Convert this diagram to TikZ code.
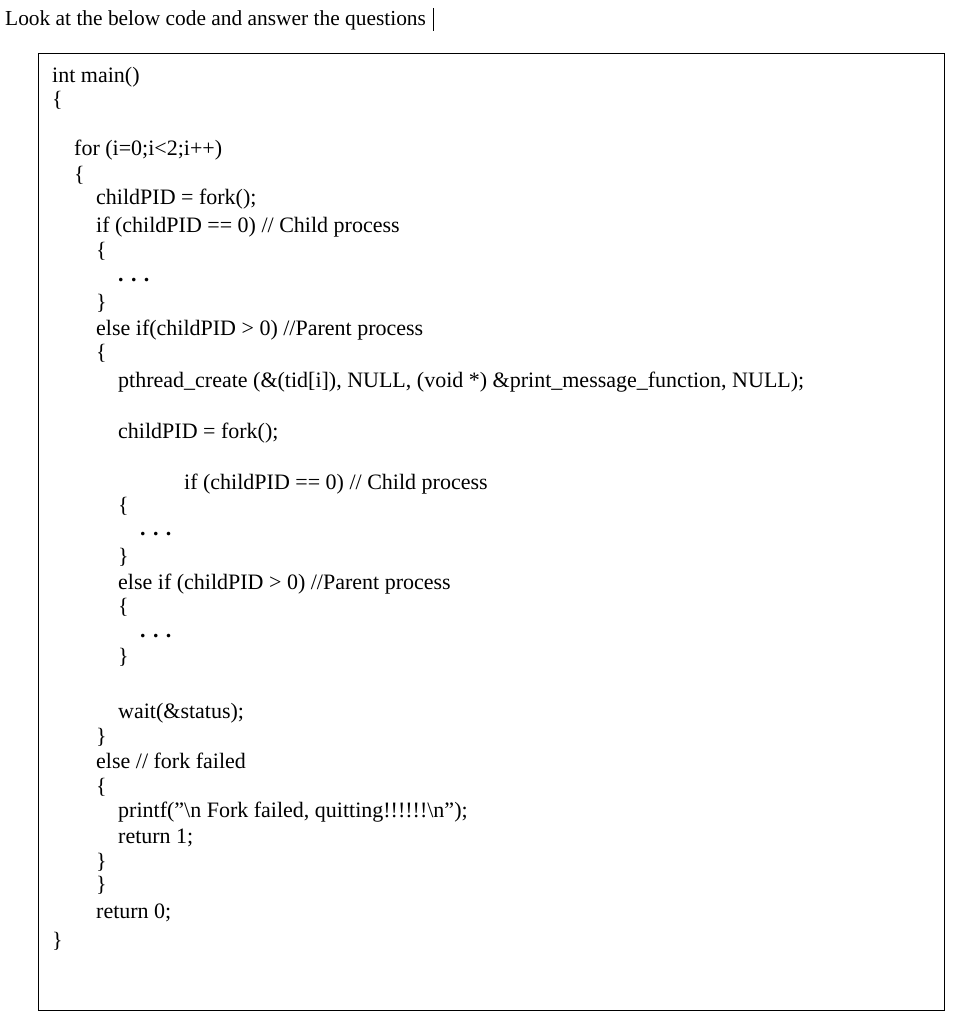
\documentclass[tikz,border=0pt]{standalone}
\usepackage{fontspec}
\setmainfont{Liberation Serif}
\begin{document}
\begin{tikzpicture}[x=1pt,y=-1pt,
  code/.style={anchor=base west,inner sep=0pt,font=\fontsize{22}{26}\selectfont}]
\useasboundingbox (0,0) rectangle (971,1024);
\fill[white] (0,0) rectangle (971,1024);
\node[code,font=\fontsize{21.4}{24}\selectfont] (title) at (5,26) {Look at the below code and answer the questions};
\draw[line width=0.8pt] (433,8) -- (433,31);
\node[draw,line width=1pt,minimum width=906pt,minimum height=957pt,anchor=north west,inner sep=0pt] (box) at (38,53) {};
\node[code] (l1) at (52,83) {int main()};
\node[code] (l2) at (52,107) {\{};
\node[code] (l3) at (74,156) {for (i=0;i<2;i++)};
\node[code] (l4) at (74,182) {\{};
\node[code] (l5) at (96,205) {childPID = fork();};
\node[code] (l6) at (96,233) {if (childPID == 0) // Child process};
\node[code] (l7) at (96,257) {\{};
\node[code] (l8) at (118,281) {\textbf{.\,\,.\,\,.}};
\node[code] (l9) at (96,309) {\}};
\node[code] (l10) at (96,335) {else if(childPID > 0) //Parent process};
\node[code] (l11) at (96,359) {\{};
\node[code] (l12) at (118,387) {pthread\_create (\&(tid[i]), NULL, (void *) \&print\_message\_function, NULL);};
\node[code] (l13) at (118,438) {childPID = fork();};
\node[code] (l14) at (184,489) {if (childPID == 0) // Child process};
\node[code] (l15) at (118,512) {\{};
\node[code] (l16) at (140,535) {\textbf{.\,\,.\,\,.}};
\node[code] (l17) at (118,563) {\}};
\node[code] (l18) at (118,589) {else if (childPID > 0) //Parent process};
\node[code] (l19) at (118,613) {\{};
\node[code] (l20) at (140,637) {\textbf{.\,\,.\,\,.}};
\node[code] (l21) at (118,663) {\}};
\node[code] (l22) at (118,718) {wait(\&status);};
\node[code] (l23) at (96,743) {\}};
\node[code] (l24) at (96,768) {else // fork failed};
\node[code] (l25) at (96,793) {\{};
\node[code] (l26) at (118,817) {printf(\symbol{34}\textbackslash n Fork failed, quitting!!!!!!\textbackslash n\symbol{34});};
\node[code] (l27) at (118,843) {return 1;};
\node[code] (l28) at (96,868) {\}};
\node[code] (l29) at (96,891) {\}};
\node[code] (l30) at (96,918) {return 0;};
\node[code] (l31) at (52,947) {\}};
\end{tikzpicture}
\end{document}
